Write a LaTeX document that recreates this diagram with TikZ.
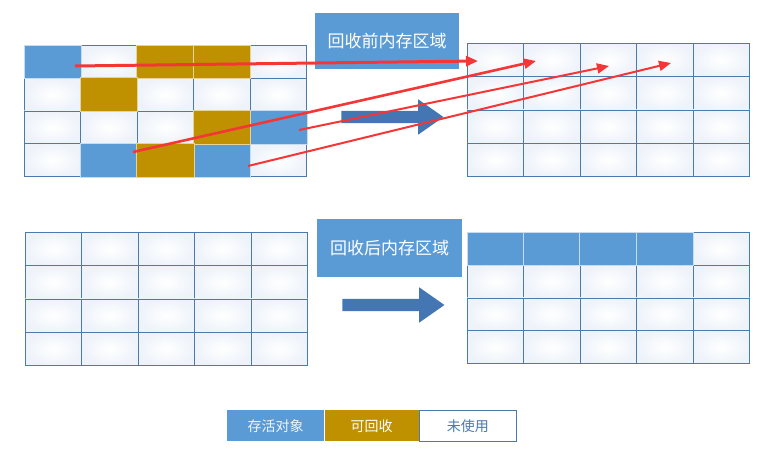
\documentclass[tikz,border=0pt]{standalone}
\usepackage{fontspec}
\setmainfont{Noto Sans CJK SC}
\usetikzlibrary{shapes.arrows,arrows.meta,calc}
\definecolor{liveblue}{HTML}{5B9BD5}
\definecolor{garb}{HTML}{BF9000}
\definecolor{gridc}{HTML}{4A7AAE}
\definecolor{bigarrow}{HTML}{4376B3}
\definecolor{redc}{HTML}{F53636}
\definecolor{cellshade}{HTML}{EEF3FA}
\newcommand\memgrid[4]{%
  \foreach \r in {0,...,3}{\foreach \c in {0,...,4}{%
    \node[cell, minimum height=#4pt] (#1-\r-\c) at ({#2+\c*56.4},{#3+\r*#4}) {};}}}
\begin{document}
\begin{tikzpicture}[x=1pt,y=-1pt,
  cell/.style={draw=gridc, line width=0.9pt, minimum width=56.4pt, inner sep=0pt,
    anchor=north west, shading=radial, inner color=white, outer color=cellshade},
  livefill/.style={fill=liveblue, draw=white!65!liveblue, line width=0.8pt},
  garbfill/.style={fill=garb, draw=white!60!garb, line width=0.8pt},
  title/.style={fill=liveblue, text=white, inner sep=0pt, font=\fontsize{17}{20}\selectfont},
  bigarr/.style={single arrow, fill=bigarrow, draw=none, inner xsep=0pt, inner ysep=6pt,
    text height=0pt, text depth=0pt, minimum height=102pt,
    minimum width=35pt, single arrow head extend=11.5pt, single arrow tip angle=70},
  redarr/.style={draw=redc, -{Triangle[length=12pt,width=10pt]}},
  legend/.style={inner sep=0pt, minimum height=31pt, anchor=north west,
    font=\fontsize{14}{16}\selectfont}]
\useasboundingbox (0,0) rectangle (763,452);
% ---- top left grid (before)
\memgrid{A}{24}{45}{32.75}
\foreach \r/\c in {0/0,2/4,3/1,3/3}{\path[livefill] (A-\r-\c.north west) rectangle (A-\r-\c.south east);}
\foreach \r/\c in {0/2,0/3,1/1,2/3,3/2}{\path[garbfill] (A-\r-\c.north west) rectangle (A-\r-\c.south east);}
% ---- top right grid
\memgrid{B}{467}{43}{33.25}
% ---- bottom left grid
\memgrid{C}{25}{232}{33.25}
% ---- bottom right grid
\memgrid{D}{467}{232}{32.75}
\foreach \c in {0,...,3}{\path[livefill] (D-0-\c.north west) rectangle (D-0-\c.south east);}
% ---- titles
\node[title, minimum width=144pt, minimum height=56pt] (t1) at (387,41) {回收前内存区域};
\node[title, minimum width=145pt, minimum height=58pt] (t2) at (389.5,248) {回收后内存区域};
% ---- big arrows
\node[bigarr] (ba1) at (388,117) {};
\node[bigarr] (ba2) at (389,305) {};
% ---- red arrows
\coordinate (s1) at (75,66);   \coordinate (e1) at (478,61);
\coordinate (s2) at (133,152); \coordinate (e2) at (536,61);
\coordinate (s3) at (299,130); \coordinate (e3) at (609,66);
\coordinate (s4) at (248,166); \coordinate (e4) at (671,63);
\draw[redarr, line width=3pt] (s1) -- (e1);
\draw[redarr, line width=2.6pt] (s2) -- (e2);
\draw[redarr, line width=2pt] (s3) -- (e3);
\draw[redarr, line width=2pt] (s4) -- (e4);
% ---- legend
\node[legend, fill=liveblue, text=white!90!liveblue, minimum width=97pt] (l1) at (227,410) {存活对象};
\node[legend, fill=garb, text=white, minimum width=94pt] (l2) at (l1.north east) {可回收};
\node[legend, fill=white, draw=gridc, line width=0.9pt, text=gridc, minimum width=97pt] (l3) at (l2.north east) {未使用};
\end{tikzpicture}
\end{document}
